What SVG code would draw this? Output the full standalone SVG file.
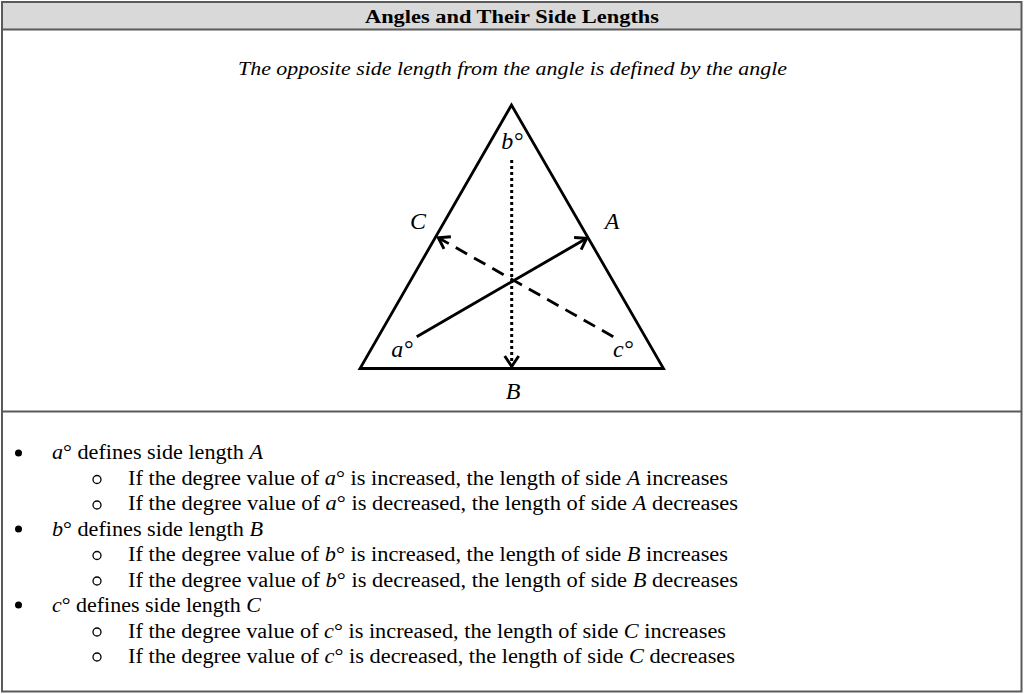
<svg xmlns="http://www.w3.org/2000/svg" width="1024" height="694" viewBox="0 0 1024 694">
<style>
.t{font-family:"Liberation Serif","Times New Roman",serif;fill:#000}
.b{font-size:20.5px}
.i{font-style:italic}
.lbl{font-family:"Liberation Serif","Times New Roman",serif;font-style:italic;font-size:24px;text-anchor:middle;fill:#000}
.frame{fill:none;stroke:#5a5a5a;stroke-width:2}
.dot{fill:#000}
.ring{fill:none;stroke:#000;stroke-width:1.3}
</style>
<defs>
<marker id="chev" markerUnits="userSpaceOnUse" viewBox="-14 -9 16 18" markerWidth="16" markerHeight="18" refX="0" refY="0" orient="auto" overflow="visible">
<path d="M-10.5,-7 L0,0 L-10.5,7" fill="none" stroke="#000" stroke-width="2.9" stroke-linejoin="miter"/>
</marker>
</defs>
<rect width="1024" height="694" fill="#fff"/>
<g id="table">
<rect x="2" y="2" width="1019.5" height="27.5" fill="#d9d9d9"/>
<rect class="frame" x="2" y="2" width="1019.5" height="689.5"/>
<line class="frame" x1="2" y1="29.5" x2="1021.5" y2="29.5"/>
<line class="frame" x1="2" y1="411.5" x2="1021.5" y2="411.5"/>
<text class="t" x="512" y="22.5" font-size="18.5" font-weight="bold" text-anchor="middle" textLength="294" lengthAdjust="spacingAndGlyphs">Angles and Their Side Lengths</text>
<text class="t i" x="512.5" y="75" font-size="19.5" text-anchor="middle" textLength="549" lengthAdjust="spacingAndGlyphs">The opposite side length from the angle is defined by the angle</text>
</g>
<g id="triangle">
<polygon points="511.5,105 360,368.5 663.5,368.5" fill="none" stroke="#000" stroke-width="2.8" stroke-linejoin="miter"/>
</g>
<g id="connectors">
<line x1="416.7" y1="336.7" x2="586.7" y2="238.3" stroke="#000" stroke-width="2.9" marker-end="url(#chev)"/>
<line x1="613.3" y1="336.7" x2="438.3" y2="237.7" stroke="#000" stroke-width="2.8" stroke-dasharray="13 8" marker-end="url(#chev)"/>
<line x1="511.7" y1="160" x2="511.7" y2="366.5" stroke="#000" stroke-width="3" stroke-dasharray="3 3" marker-end="url(#chev)"/>
</g>
<g id="labels">
<text class="lbl" x="512" y="149">b°</text>
<text class="lbl" x="418" y="229">C</text>
<text class="lbl" x="612" y="229">A</text>
<text class="lbl" x="402" y="357">a°</text>
<text class="lbl" x="623" y="357">c°</text>
<text class="lbl" x="513" y="399">B</text>
</g>
<g id="bullets">
<circle class="dot" cx="18.5" cy="453" r="3.5"/>
<circle class="ring" cx="97" cy="479.5" r="4"/>
<circle class="ring" cx="97" cy="505" r="4"/>
<circle class="dot" cx="18.5" cy="529" r="3.5"/>
<circle class="ring" cx="97" cy="555.5" r="4"/>
<circle class="ring" cx="97" cy="581" r="4"/>
<circle class="dot" cx="18.5" cy="605" r="3.5"/>
<circle class="ring" cx="97" cy="632" r="4"/>
<circle class="ring" cx="97" cy="657" r="4"/>
<text class="t b" x="52" y="459" textLength="211" lengthAdjust="spacingAndGlyphs"><tspan class="i">a</tspan>° defines side length <tspan class="i">A</tspan></text>
<text class="t b" x="128" y="484.5" textLength="600" lengthAdjust="spacingAndGlyphs">If the degree value of <tspan class="i">a</tspan>° is increased, the length of side <tspan class="i">A</tspan> increases</text>
<text class="t b" x="128" y="510" textLength="610" lengthAdjust="spacingAndGlyphs">If the degree value of <tspan class="i">a</tspan>° is decreased, the length of side <tspan class="i">A</tspan> decreases</text>
<text class="t b" x="52" y="535.5" textLength="211" lengthAdjust="spacingAndGlyphs"><tspan class="i">b</tspan>° defines side length <tspan class="i">B</tspan></text>
<text class="t b" x="128" y="561" textLength="600" lengthAdjust="spacingAndGlyphs">If the degree value of <tspan class="i">b</tspan>° is increased, the length of side <tspan class="i">B</tspan> increases</text>
<text class="t b" x="128" y="586.5" textLength="610" lengthAdjust="spacingAndGlyphs">If the degree value of <tspan class="i">b</tspan>° is decreased, the length of side <tspan class="i">B</tspan> decreases</text>
<text class="t b" x="52" y="612" textLength="209" lengthAdjust="spacingAndGlyphs"><tspan class="i">c</tspan>° defines side length <tspan class="i">C</tspan></text>
<text class="t b" x="128" y="637.5" textLength="598" lengthAdjust="spacingAndGlyphs">If the degree value of <tspan class="i">c</tspan>° is increased, the length of side <tspan class="i">C</tspan> increases</text>
<text class="t b" x="128" y="663" textLength="607" lengthAdjust="spacingAndGlyphs">If the degree value of <tspan class="i">c</tspan>° is decreased, the length of side <tspan class="i">C</tspan> decreases</text>
</g>
</svg>
